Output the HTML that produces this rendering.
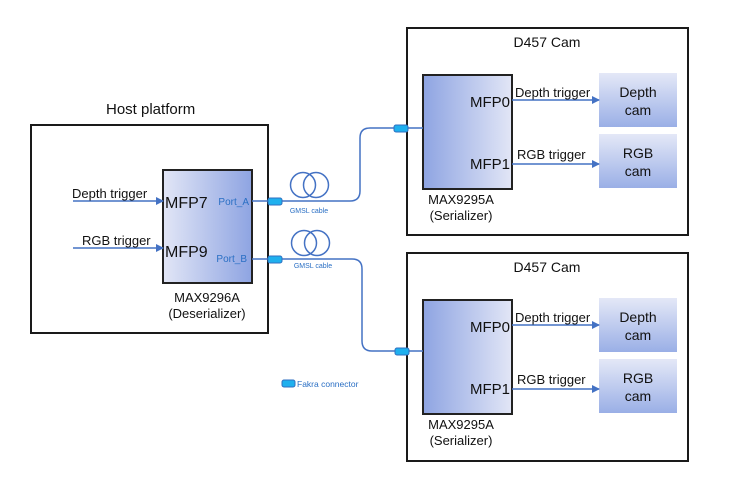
<!DOCTYPE html>
<html><head><meta charset="utf-8"><style>
html,body{margin:0;padding:0;background:#fff;}
svg{display:block;font-family:"Liberation Sans",sans-serif;}
</style></head><body>
<svg width="750" height="484" viewBox="0 0 750 484" xmlns="http://www.w3.org/2000/svg">
<defs>
<linearGradient id="gl" x1="0" y1="0" x2="1" y2="0"><stop offset="0" stop-color="#e2e6f6"/><stop offset="1" stop-color="#8ea4e2"/></linearGradient>
<linearGradient id="gr" x1="0" y1="0" x2="1" y2="0"><stop offset="0" stop-color="#8ea4e2"/><stop offset="1" stop-color="#e2e6f6"/></linearGradient>
<linearGradient id="gv" x1="0" y1="0" x2="0" y2="1"><stop offset="0" stop-color="#e4e8f7"/><stop offset="1" stop-color="#9aafe6"/></linearGradient>
<marker id="ar" markerWidth="8" markerHeight="8" refX="7" refY="4" orient="auto" markerUnits="userSpaceOnUse"><path d="M0,0 L8,4 L0,8 z" fill="#4472c4"/></marker>
</defs>
<g fill="none" stroke="#1a1a1a" stroke-width="2">
<rect x="31" y="125" width="237" height="208"/>
<rect x="407" y="28" width="281" height="207"/>
<rect x="407" y="253" width="281" height="208"/>
</g>
<rect x="163" y="170" width="89" height="113" fill="url(#gl)" stroke="#222" stroke-width="2"/>
<rect x="423" y="75" width="89" height="114" fill="url(#gr)" stroke="#222" stroke-width="2"/>
<rect x="423" y="300" width="89" height="114" fill="url(#gr)" stroke="#222" stroke-width="2"/>
<rect x="599" y="73" width="78" height="54" fill="url(#gv)"/>
<rect x="599" y="134" width="78" height="54" fill="url(#gv)"/>
<rect x="599" y="298" width="78" height="54" fill="url(#gv)"/>
<rect x="599" y="359" width="78" height="54" fill="url(#gv)"/>
<g stroke="#4472c4" stroke-width="1.5" fill="none">
<line x1="73" y1="201" x2="163" y2="201" marker-end="url(#ar)"/>
<line x1="73" y1="248" x2="163" y2="248" marker-end="url(#ar)"/>
<line x1="512" y1="100" x2="599" y2="100" marker-end="url(#ar)"/>
<line x1="512" y1="164" x2="599" y2="164" marker-end="url(#ar)"/>
<line x1="512" y1="325" x2="599" y2="325" marker-end="url(#ar)"/>
<line x1="512" y1="389" x2="599" y2="389" marker-end="url(#ar)"/>
<path d="M252,201 H350 Q360,201 360,191 V138 Q360,128 370,128 H423"/>
<path d="M252,259 H352 Q362,259 362,269 V341 Q362,351 372,351 H423"/>
<circle cx="303" cy="185" r="12.5"/><circle cx="316" cy="185" r="12.5"/>
<circle cx="304" cy="243" r="12.5"/><circle cx="317" cy="243" r="12.5"/>
</g>
<g fill="#1fb0ee" stroke="#2f6fc0" stroke-width="1">
<rect x="268" y="198" width="14" height="7" rx="2"/>
<rect x="268" y="256" width="14" height="7" rx="2"/>
<rect x="394" y="125" width="14" height="7" rx="2"/>
<rect x="395" y="348" width="14" height="7" rx="2"/>
<rect x="282" y="380" width="13" height="7" rx="2"/>
</g>
<g fill="#111" font-size="14">
<text x="106" y="114" font-size="15">Host platform</text>
<text x="72" y="198" font-size="13">Depth trigger</text>
<text x="82" y="245" font-size="13">RGB trigger</text>
<text x="165" y="208" font-size="16">MFP7</text>
<text x="165" y="257" font-size="16">MFP9</text>
<text x="207" y="302" text-anchor="middle" font-size="13">MAX9296A</text>
<text x="207" y="318" text-anchor="middle" font-size="13">(Deserializer)</text>
<text x="547" y="47" text-anchor="middle" font-size="14">D457 Cam</text>
<text x="547" y="272" text-anchor="middle" font-size="14">D457 Cam</text>
<text x="510" y="107" text-anchor="end" font-size="15">MFP0</text>
<text x="510" y="169" text-anchor="end" font-size="15">MFP1</text>
<text x="510" y="332" text-anchor="end" font-size="15">MFP0</text>
<text x="510" y="394" text-anchor="end" font-size="15">MFP1</text>
<text x="515" y="97" font-size="13">Depth trigger</text>
<text x="517" y="159" font-size="13">RGB trigger</text>
<text x="515" y="322" font-size="13">Depth trigger</text>
<text x="517" y="384" font-size="13">RGB trigger</text>
<text x="638" y="97" text-anchor="middle" font-size="14">Depth</text>
<text x="638" y="115" text-anchor="middle" font-size="14">cam</text>
<text x="638" y="158" text-anchor="middle" font-size="14">RGB</text>
<text x="638" y="176" text-anchor="middle" font-size="14">cam</text>
<text x="638" y="322" text-anchor="middle" font-size="14">Depth</text>
<text x="638" y="340" text-anchor="middle" font-size="14">cam</text>
<text x="638" y="383" text-anchor="middle" font-size="14">RGB</text>
<text x="638" y="401" text-anchor="middle" font-size="14">cam</text>
<text x="461" y="204" text-anchor="middle" font-size="13">MAX9295A</text>
<text x="461" y="220" text-anchor="middle" font-size="13">(Serializer)</text>
<text x="461" y="429" text-anchor="middle" font-size="13">MAX9295A</text>
<text x="461" y="445" text-anchor="middle" font-size="13">(Serializer)</text>
</g>
<g fill="#2a6fc4">
<text x="249" y="205" text-anchor="end" font-size="10">Port_A</text>
<text x="247" y="262" text-anchor="end" font-size="10">Port_B</text>
<text x="309" y="213" text-anchor="middle" font-size="7">GMSL cable</text>
<text x="313" y="268" text-anchor="middle" font-size="7">GMSL cable</text>
<text x="297" y="387" font-size="8.5">Fakra connector</text>
</g>
</svg>
</body></html>
